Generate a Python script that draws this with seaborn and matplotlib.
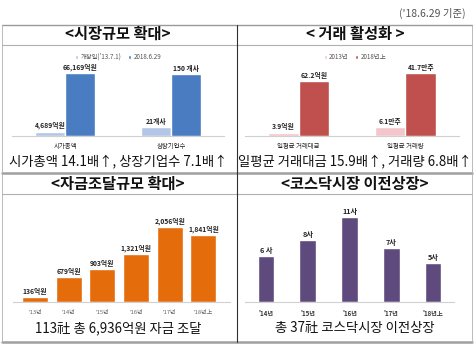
import matplotlib
matplotlib.use("Agg")
import matplotlib.pyplot as plt
from matplotlib.lines import Line2D
import seaborn as sns
import pandas as pd

# ---------------- data ----------------
mkt_categories = ["시가총액", "상장기업수"]
mkt_periods = ["개장일('13.7.1)", "2018.6.29"]
mkt_values = {"시가총액": [4689, 66169], "상장기업수": [21, 150]}
mkt_labels = {"시가총액": ["4,689억원", "66,169억원"], "상장기업수": ["21개사", "150 개사"]}

trd_categories = ["일평균 거래대금", "일평균 거래량"]
trd_periods = ["2013년", "2018년上"]
trd_values = {"일평균 거래대금": [3.9, 62.2], "일평균 거래량": [6.1, 41.7]}
trd_labels = {"일평균 거래대금": ["3.9억원", "62.2억원"], "일평균 거래량": ["6.1만주", "41.7만주"]}

fund_years = ["'13년", "'14년", "'15년", "'16년", "'17년", "'18년上"]
fund_values = [136, 679, 903, 1321, 2056, 1841]
fund_labels = ["136억원", "679억원", "903억원", "1,321억원", "2,056억원", "1,841억원"]

move_years = ["'14년", "'15년", "'16년", "'17년", "'18년上"]
move_values = [6, 8, 11, 7, 5]
move_labels = ["6 사", "8사", "11사", "7사", "5사"]

# ---------------- style ----------------
sns.set_theme(style="white")
plt.rcParams["font.family"] = ["Noto Sans CJK KR", "DejaVu Sans"]

W, H = 474, 346
fig = plt.figure(figsize=(W / 100, H / 100), dpi=100)
fig.patch.set_facecolor("white")


def rect(x0, y0, x1, y1):
    return [x0 / W, 1 - y1 / H, (x1 - x0) / W, (y1 - y0) / H]


def fx(x):
    return x / W


def fy(y):
    return 1 - y / H


def hline(y, x0=2, x1=472, lw=0.8, color="#a6a6a6"):
    fig.add_artist(Line2D([fx(x0), fx(x1)], [fy(y), fy(y)], transform=fig.transFigure,
                          lw=lw, color=color))


def vline(x, y0, y1, lw=0.8, color="#404040"):
    fig.add_artist(Line2D([fx(x), fx(x)], [fy(y0), fy(y1)], transform=fig.transFigure,
                          lw=lw, color=color))


# frame lines
hline(24.5, lw=1.0, color="#9a9a9a")
hline(45, lw=0.8, color="#b0b0b0")
hline(173.5, lw=1.8, color="#a0a0a0")
hline(194, lw=0.8, color="#b0b0b0")
hline(342, lw=1.8, color="#a0a0a0")
vline(236.5, 24.5, 342, lw=0.8, color="#303030")
vline(2, 24.5, 342, lw=0.6, color="#b0b0b0")
vline(472, 24.5, 342, lw=0.6, color="#b0b0b0")

fig.text(fx(466), fy(13), "('18.6.29 기준)", ha="right", va="center", fontsize=7.5, color="#555555")

for x, y, t in [(118, 34, "<시장규모 확대>"), (355, 34, "< 거래 활성화 >"),
                (118, 183.5, "<자금조달규모 확대>"), (355, 183.5, "<코스닥시장 이전상장>")]:
    fig.text(fx(x), fy(y), t, ha="center", va="center", fontsize=11, fontweight="bold", color="#111111")

for x, y, t in [(118, 162, "시가총액 14.1배↑, 상장기업수 7.1배↑"),
                (355, 162, "일평균 거래대금 15.9배↑, 거래량 6.8배↑"),
                (118, 328, "113社 총 6,936억원 자금 조달"),
                (355, 328, "총 37社 코스닥시장 이전상장")]:
    fig.text(fx(x), fy(y), t, ha="center", va="center", fontsize=9.6, color="#111111")


# ---------------- top panels (each category on its own scale) ----------------
def grouped_panel(r, cats, periods, values, labels, colors, ytop, legend_xy):
    ax1 = fig.add_axes(r)
    ax2 = ax1.twinx()
    axes = [ax1, ax2]
    handles = None
    for i, (ax, cat) in enumerate(zip(axes, cats)):
        df = pd.DataFrame({"cat": [cat] * len(periods), "period": periods, "value": values[cat]})
        sns.barplot(data=df, x="cat", y="value", hue="period", order=cats, hue_order=periods,
                    palette=colors, width=0.57, ax=ax, saturation=1, legend=True)
        if handles is None:
            handles, labs = ax.get_legend_handles_labels()
        if ax.get_legend():
            ax.get_legend().remove()
        for cont, lab in zip(ax.containers, labels[cat]):
            ax.bar_label(cont, labels=[lab], fontsize=4.9, fontweight="bold", padding=1.5, color="#222222")
        ax.set_ylim(0, values[cat][1] * ytop[i])
        ax.set_xlim(-0.5, 1.5)
        ax.set_yticks([])
        ax.set_ylabel("")
        ax.set_xlabel("")
        for s in ax.spines.values():
            s.set_visible(False)
        ax.patch.set_alpha(0)
    ax1.spines["bottom"].set_visible(True)
    ax1.spines["bottom"].set_color("#d0d0d0")
    ax1.spines["bottom"].set_linewidth(0.8)
    ax1.set_xticks(range(len(cats)))
    ax1.set_xticklabels(cats, fontsize=4.6, color="#222222")
    ax1.tick_params(axis="x", length=0, pad=4.5)
    ax1.set_xticks([0.5], minor=True)
    ax1.tick_params(axis="x", which="minor", length=2, color="#d0d0d0", width=0.6)
    fig.legend(handles, periods, loc="center", bbox_to_anchor=(fx(legend_xy[0]), fy(legend_xy[1])),
               bbox_transform=fig.transFigure, ncol=2, frameon=False, fontsize=4.5,
               handlelength=0.5, handleheight=0.5, handletextpad=0.4, columnspacing=1.0,
               labelcolor="#555555")


grouped_panel(rect(12, 60, 224, 136), mkt_categories, mkt_periods, mkt_values, mkt_labels,
              ["#b4c6e7", "#4a7cc2"], [1.206, 1.226], (118, 57))
grouped_panel(rect(245, 60, 459, 136), trd_categories, trd_periods, trd_values, trd_labels,
              ["#f2c6ca", "#c0504d"], [1.382, 1.206], (355, 57))


# ---------------- bottom panels ----------------
def simple_panel(r, cats, values, labels, color, width, xlim, ylim, tick_kw, label_kw):
    ax = fig.add_axes(r)
    df = pd.DataFrame({"year": cats, "value": values})
    sns.barplot(data=df, x="year", y="value", color=color, width=width, saturation=1, ax=ax)
    for cont in ax.containers:
        ax.bar_label(cont, labels=labels, padding=1.5, color="#222222", **label_kw)
    ax.set_xlim(*xlim)
    ax.set_ylim(0, ylim)
    ax.set_yticks([])
    ax.set_xlabel("")
    ax.set_ylabel("")
    for s in ax.spines.values():
        s.set_visible(False)
    ax.spines["bottom"].set_visible(True)
    ax.spines["bottom"].set_color("#d0d0d0")
    ax.spines["bottom"].set_linewidth(0.8)
    ax.set_xticks(range(len(cats)))
    ax.set_xticklabels(cats, **tick_kw)
    ax.tick_params(axis="x", length=0, pad=5.5)
    ax.set_xticks([i + 0.5 for i in range(-1, len(cats))], minor=True)
    ax.tick_params(axis="x", which="minor", length=2, color="#d0d0d0", width=0.6)
    ax.patch.set_alpha(0)


simple_panel(rect(13, 205, 230, 302), fund_years, fund_values, fund_labels, "#e46c0a", 0.77,
             (-0.65, 5.79), 2659, dict(fontsize=4.2, color="#666666"),
             dict(fontsize=4.9, fontweight="bold"))
simple_panel(rect(245, 205, 454, 302), move_years, move_values, move_labels, "#5f4a7e", 0.4,
             (-0.5, 4.5), 12.55, dict(fontsize=4.4, color="#333333", fontweight="bold"),
             dict(fontsize=5.2, fontweight="bold"))

fig.savefig("out.png", dpi=100, facecolor="white")
